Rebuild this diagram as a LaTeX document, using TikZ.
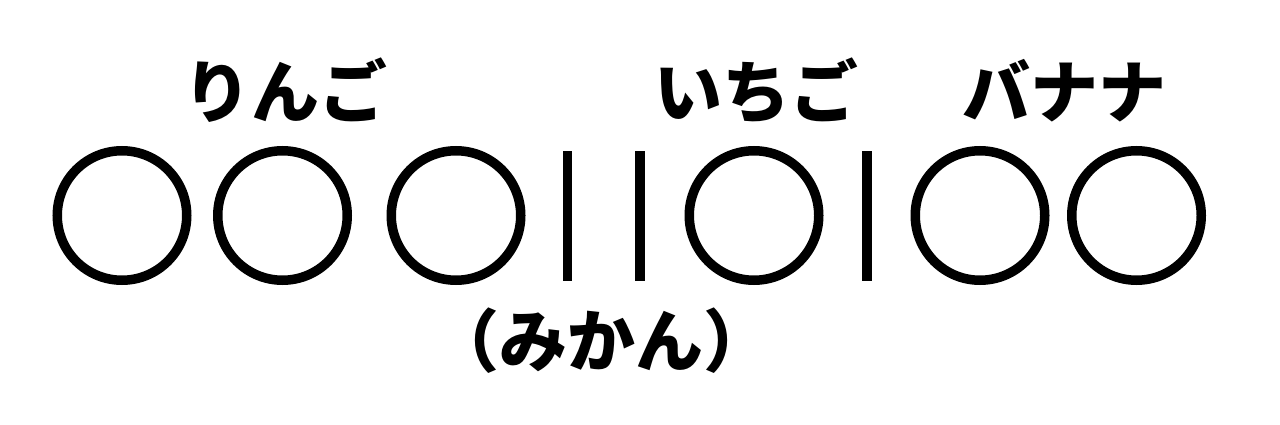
\documentclass[tikz,border=0pt]{standalone}
\usepackage{fontspec}
\newfontfamily\jpfont{Noto Sans CJK JP}
\begin{document}
\begin{tikzpicture}[x=1pt,y=-1pt,
  ring/.style={circle,draw=black,line width=9.5pt,minimum size=129.5pt,inner sep=0pt},
  bar/.style={rectangle,fill=black,draw=none,minimum width=9.7pt,minimum height=129.7pt,inner sep=0pt},
  lbl/.style={font=\jpfont\bfseries\fontsize{68pt}{72pt}\selectfont,anchor=base,inner sep=0pt}]
\useasboundingbox[fill=white] (0,0) rectangle (1280,425);
\node[ring] (c1) at (122,215.5) {};
\node[ring] (c2) at (282.5,215.5) {};
\node[ring] (c3) at (456,215.5) {};
\node[bar] (b1) at (567.5,215.85) {};
\node[bar] (b2) at (640,215.85) {};
\node[ring] (c4) at (754,215.5) {};
\node[bar] (b3) at (867,215.85) {};
\node[ring] (c5) at (980,215.5) {};
\node[ring] (c6) at (1136.5,215.5) {};
\node[lbl] (t1) at (285.5,118) {りんご};
\node[lbl] (t2) at (756.5,118) {いちご};
\node[lbl] (t3) at (1064.5,118) {バナナ};
\node[lbl] (t4) at (601,366) {（みかん）};
\end{tikzpicture}
\end{document}
